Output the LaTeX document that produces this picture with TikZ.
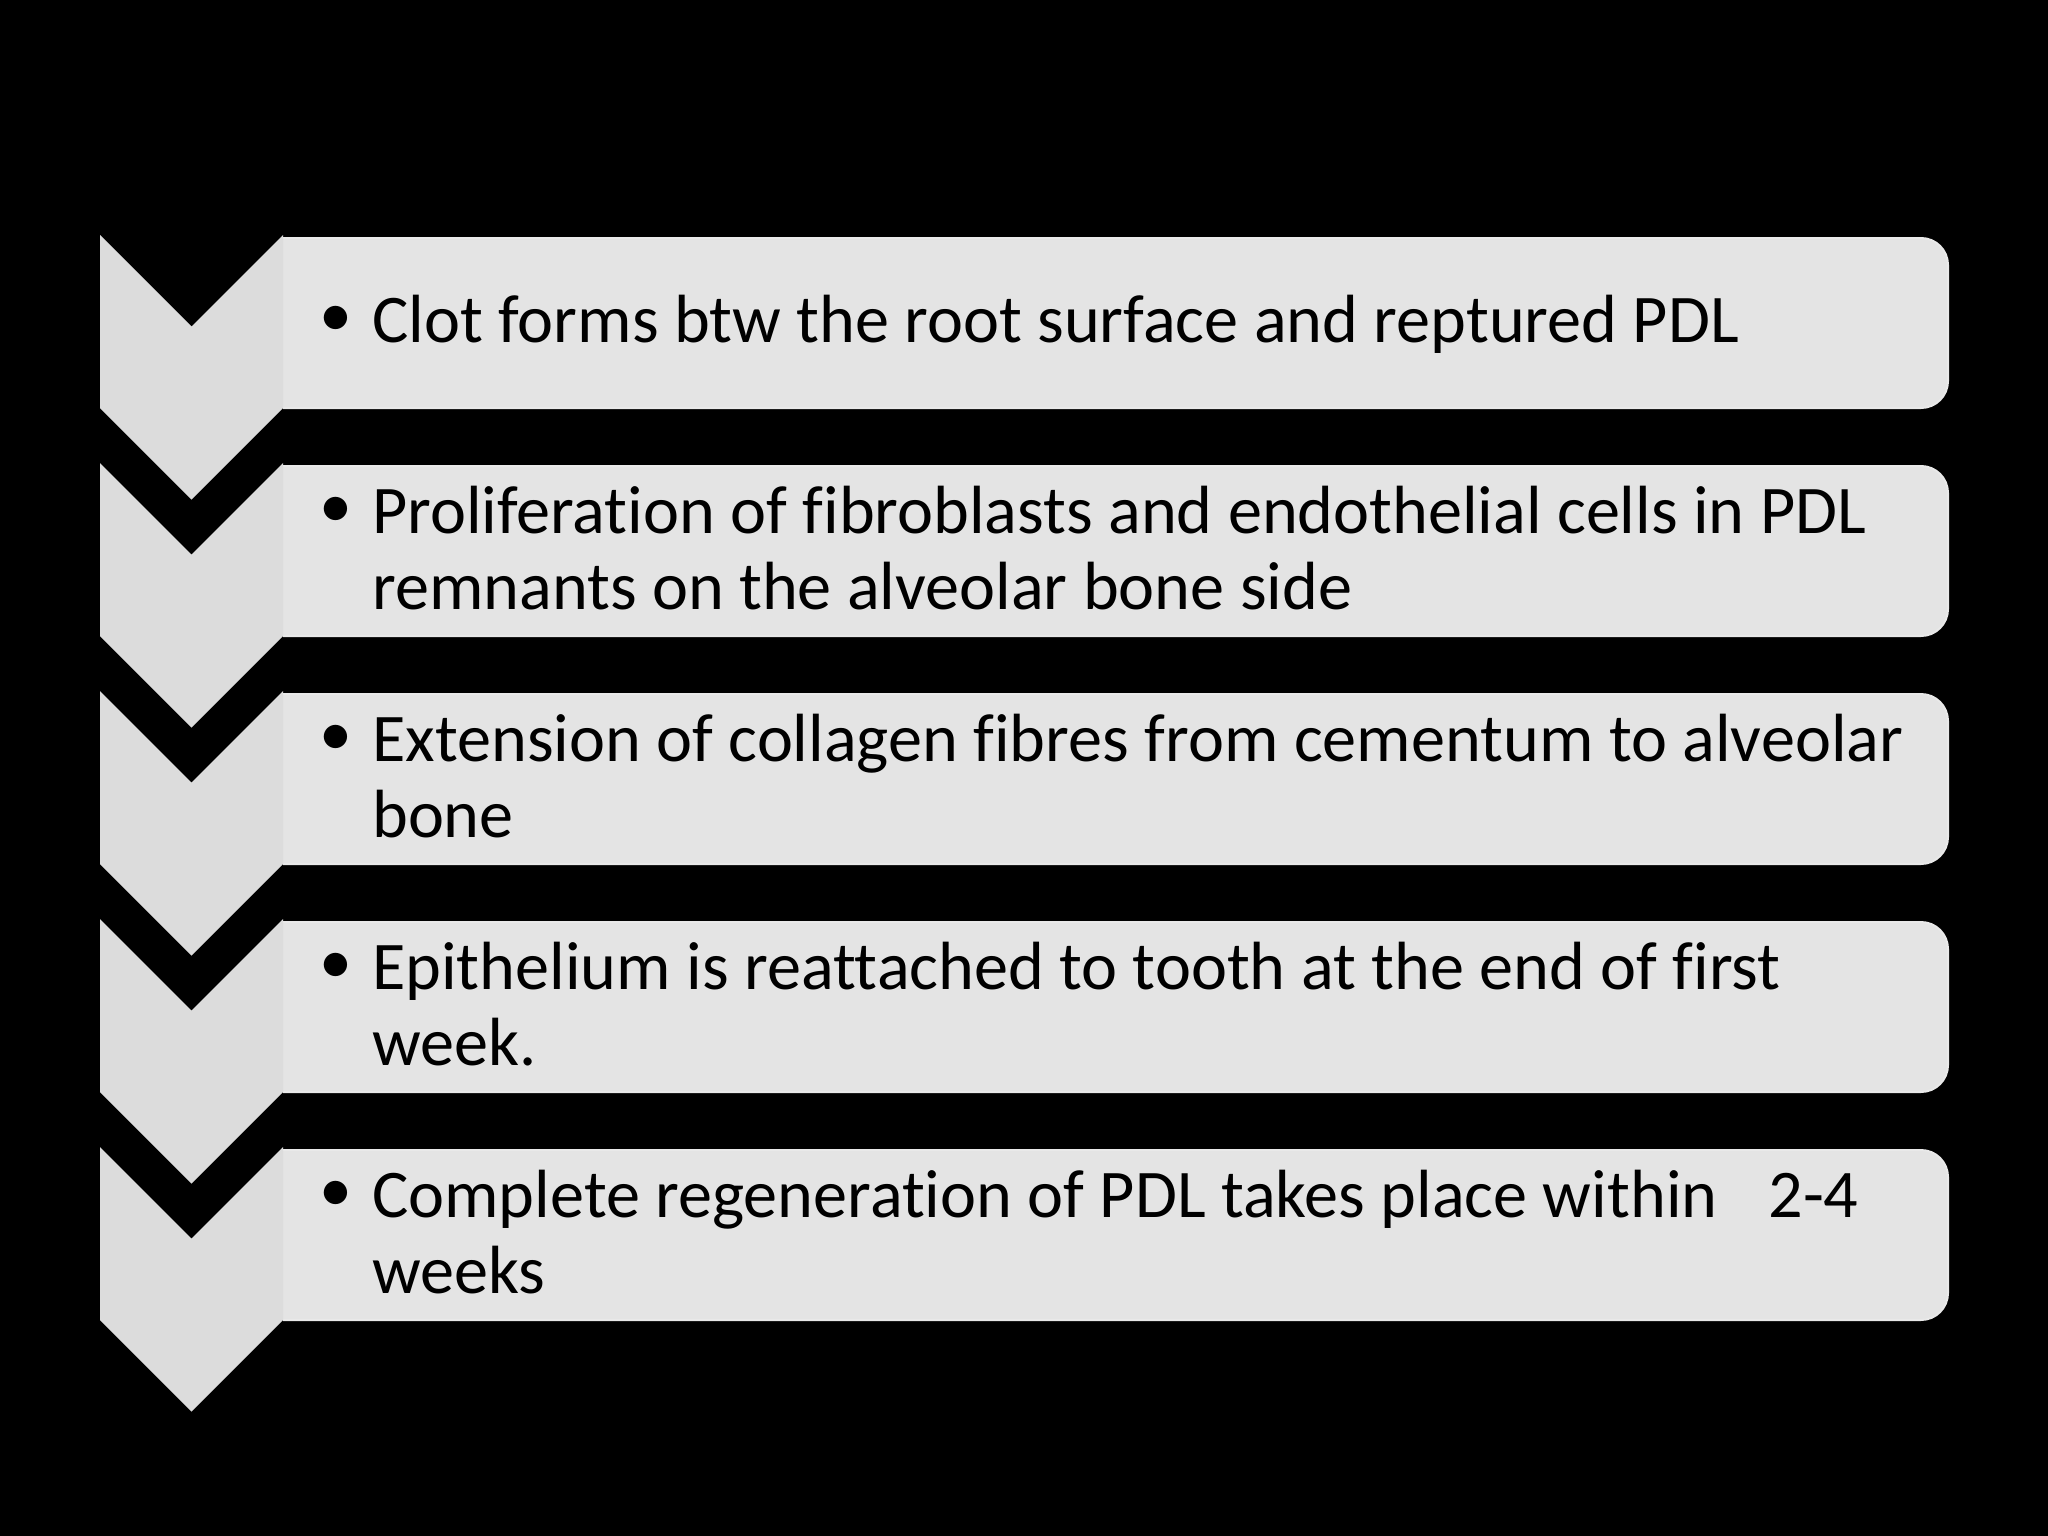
\documentclass[tikz,border=0pt]{standalone}
\usepackage{fontspec}
\setmainfont{Carlito}[Ligatures={NoCommon}]
\begin{document}
\begin{tikzpicture}[x=1pt,y=-1pt,
  chev/.style={fill=chevgray,draw=none},
  stepbox/.style={fill=boxgray,draw=boxedge,line width=2pt,rounded corners=27pt},
  line/.style={anchor=base west,inner sep=0pt,font=\fontsize{68.2}{76}\selectfont,text=black},
  bul/.style={inner sep=0pt,font=\fontsize{66}{76}\selectfont,text=black}]
\definecolor{chevgray}{HTML}{DCDCDC}
\definecolor{boxgray}{HTML}{E4E4E4}
\definecolor{boxedge}{HTML}{E9E9E9}
\fill[black] (0,0) rectangle (2048,1536);
\useasboundingbox (0,0) rectangle (2048,1536);
\foreach \i in {0,...,4}{
  \pgfmathsetmacro{\T}{235+228*\i}
  \begin{scope}
    \clip (283,\T-5) rectangle (2048,\T+185);
    \draw[stepbox] (240,\T+3) rectangle (1948,\T+173);
  \end{scope}
  \fill[chev] (100,\T) -- (191.5,\T+91.5) -- (283,\T) -- (283,\T+173) -- (191.5,\T+264.5) -- (100,\T+173) -- cycle;
}
% row 1
\node[bul] (b1) at (336,321.7) {•};
\node[line] (t1a) at (372,342.7) {Clot forms btw the root surface and reptured PDL};
% row 2
\node[bul] (b2) at (336,512) {•};
\node[line] (t2a) at (372,533) {Proliferation of fibroblasts and endothelial cells in PDL};
\node[line] (t2b) at (372,609) {remnants on the alveolar bone side};
% row 3
\node[bul] (b3) at (336,740) {•};
\node[line] (t3a) at (372,761) {Extension of collagen fibres from cementum to alveolar};
\node[line] (t3b) at (372,837) {bone};
% row 4
\node[bul] (b4) at (336,968) {•};
\node[line] (t4a) at (372,989) {Epithelium is reattached to tooth at the end of first};
\node[line] (t4b) at (372,1065) {week.};
% row 5
\node[bul] (b5) at (336,1196) {•};
\node[line] (t5a) at (372,1217) {Complete regeneration of PDL takes place within\hspace{51pt}2-4};
\node[line] (t5b) at (372,1293) {weeks};
\end{tikzpicture}
\end{document}
